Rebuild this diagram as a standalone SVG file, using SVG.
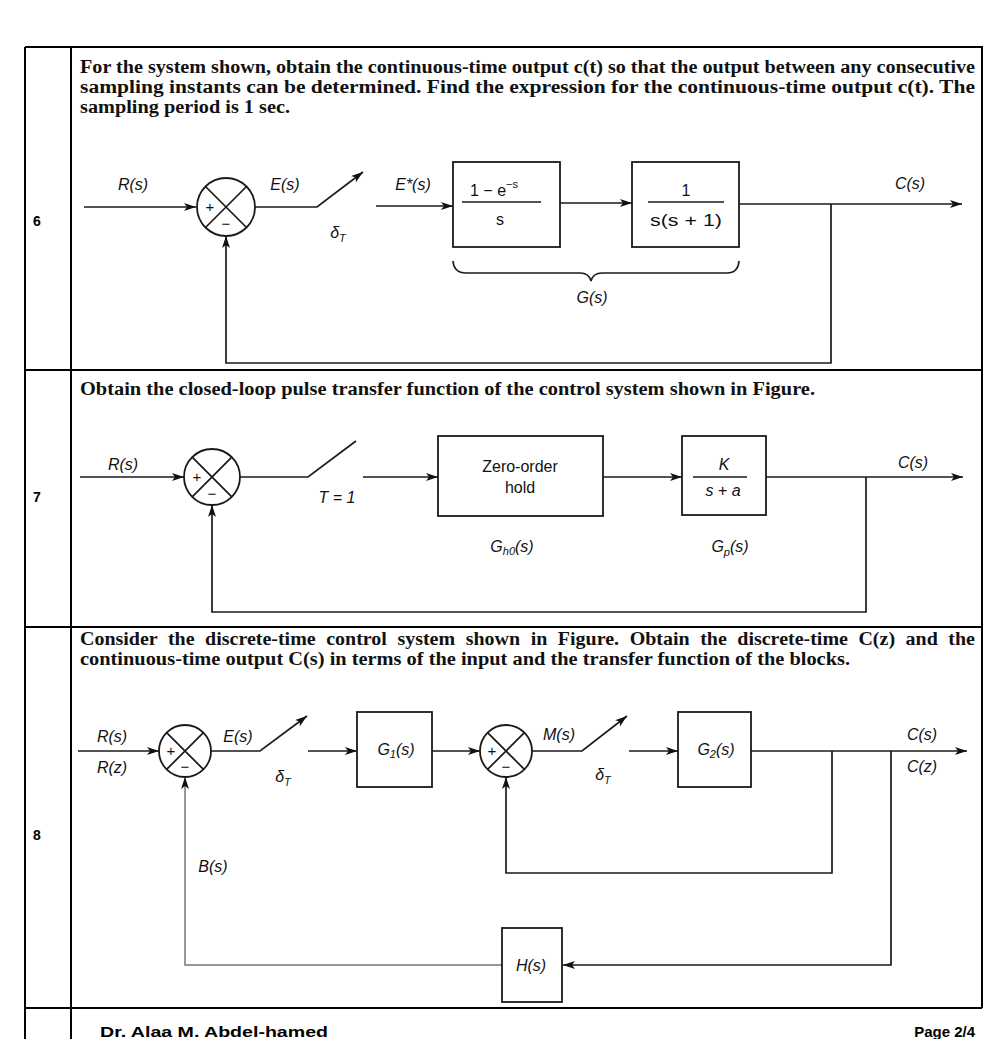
<svg xmlns="http://www.w3.org/2000/svg" width="1007" height="1039" viewBox="0 0 1007 1039">
<style>
.tb{stroke:#000;stroke-width:2;fill:none}
.q{font-family:"Liberation Serif","Times New Roman",serif;font-weight:bold;font-size:18px;fill:#111}
.num{font-family:"Liberation Sans",Arial,sans-serif;font-weight:bold;font-size:14px;fill:#000}
.ft{font-family:"Liberation Sans",Arial,sans-serif;font-weight:bold;font-size:15px;fill:#000}
.w{stroke:#1a1a1a;stroke-width:1.7;fill:none}
.wl{stroke:#777;stroke-width:1.5;fill:none}
.blk{stroke:#1a1a1a;stroke-width:1.8;fill:#fff}
.lb{font-family:"Liberation Sans",Arial,sans-serif;font-style:italic;font-size:16px;fill:#111;text-anchor:middle}
.lr{font-family:"Liberation Sans",Arial,sans-serif;font-size:16px;fill:#111;text-anchor:middle}
.sg{font-family:"Liberation Sans",Arial,sans-serif;font-size:15px;fill:#111;text-anchor:middle}
</style>
<defs>
<marker id="ah" viewBox="0 0 12 8" refX="12" refY="4" markerWidth="12" markerHeight="8" orient="auto" markerUnits="userSpaceOnUse">
<path d="M0,0 L12,4 L0,8 L3,4 z" fill="#111"/>
</marker>
</defs>
<rect width="1007" height="1039" fill="#fff"/>

<g id="table">
<path class="tb" d="M25,47 H982 V1008 M25,47 V1039 M71,47 V1039 M25,370 H982 M25,627 H982 M25,1008 H982"/>
<text class="num" x="33" y="226">6</text>
<text class="num" x="33" y="502">7</text>
<text class="num" x="33" y="840">8</text>
<text class="q" x="80" y="73" font-size="18.5" textLength="895" lengthAdjust="spacingAndGlyphs">For the system shown, obtain the continuous-time output c(t) so that the output between any consecutive</text>
<text class="q" x="80" y="93" font-size="18.5" textLength="895" lengthAdjust="spacingAndGlyphs">sampling instants can be determined. Find the expression for the continuous-time output c(t). The</text>
<text class="q" x="80" y="113" font-size="18.5" textLength="210" lengthAdjust="spacingAndGlyphs">sampling period is 1 sec.</text>
<text class="q" x="80" y="395" textLength="735" lengthAdjust="spacingAndGlyphs">Obtain the closed-loop pulse transfer function of the control system shown in Figure.</text>
<text class="q" x="80" y="645" word-spacing="5" textLength="895" lengthAdjust="spacingAndGlyphs">Consider the discrete-time control system shown in Figure. Obtain the discrete-time C(z) and the</text>
<text class="q" x="80" y="665" textLength="770" lengthAdjust="spacingAndGlyphs">continuous-time output C(s) in terms of the input and the transfer function of the blocks.</text>
<text class="ft" x="100" y="1037" textLength="228" lengthAdjust="spacingAndGlyphs">Dr.  Alaa M. Abdel-hamed</text>
<text class="ft" x="975" y="1037" text-anchor="end">Page 2/4</text>
</g>

<g id="connectors">
<!-- diagram 6 -->
<path class="w" d="M84,207 H196" marker-end="url(#ah)"/>
<path class="w" d="M255,207 H317 L363,172" marker-end="url(#ah)"/>
<path class="w" d="M376,206 H453" marker-end="url(#ah)"/>
<path class="w" d="M560,203 H632" marker-end="url(#ah)"/>
<path class="w" d="M739,204 H962" marker-end="url(#ah)"/>
<path class="w" d="M831,204 V363 H226 V236" marker-end="url(#ah)"/>
<path class="w" d="M453,261 Q454,273 466,273 H580 Q589,273 591,281 Q593,273 602,273 H727 Q738,273 739,261"/>
<!-- diagram 7 -->
<path class="w" d="M80,477 H184" marker-end="url(#ah)"/>
<path class="w" d="M240,477 H308 L356,441"/>
<path class="w" d="M363,477 H438" marker-end="url(#ah)"/>
<path class="w" d="M603,477 H682" marker-end="url(#ah)"/>
<path class="w" d="M766,477 H963" marker-end="url(#ah)"/>
<path class="w" d="M866,477 V612 H212 V505" marker-end="url(#ah)"/>
<!-- diagram 8 -->
<path class="w" d="M78,751 H159" marker-end="url(#ah)"/>
<path class="w" d="M211,751 H260 L307,716" marker-end="url(#ah)"/>
<path class="w" d="M308,751 H357" marker-end="url(#ah)"/>
<path class="w" d="M432,751 H480" marker-end="url(#ah)"/>
<path class="w" d="M532,751 H582 L627,716" marker-end="url(#ah)"/>
<path class="w" d="M629,751 H678" marker-end="url(#ah)"/>
<path class="w" d="M751,751 H967" marker-end="url(#ah)"/>
<path class="w" d="M832,751 V873 H506 V777" marker-end="url(#ah)"/>
<path class="w" d="M891,751 V965 H563" marker-end="url(#ah)"/>
<path class="wl" d="M502,965 H185 V777" marker-end="url(#ah)"/>
</g>

<g id="d6-sum">
<circle class="blk" cx="226" cy="207" r="29"/>
<path class="w" d="M205.5,186.5 L246.5,227.5 M246.5,186.5 L205.5,227.5"/>
<text class="sg" x="210" y="212">+</text>
<text class="sg" x="226" y="229">−</text>
</g>
<g id="d6-zoh">
<rect class="blk" x="453" y="162" width="107" height="85"/>
<text class="lr" x="494" y="196">1 − e<tspan font-size="11" dy="-8">−s</tspan></text>
<line class="w" x1="462" y1="202" x2="541" y2="202"/>
<text class="lr" x="500" y="225">s</text>
</g>
<g id="d6-plant">
<rect class="blk" x="632" y="162" width="107" height="85"/>
<text class="lr" x="686" y="196">1</text>
<line class="w" x1="648" y1="202" x2="724" y2="202"/>
<text class="lr" x="686" y="226" font-size="17" textLength="72" lengthAdjust="spacingAndGlyphs">s(s + 1)</text>
</g>
<g id="d6-labels">
<text class="lb" x="133" y="190">R(s)</text>
<text class="lb" x="285" y="190">E(s)</text>
<text class="lb" x="338" y="238">δ<tspan font-size="11" dy="4">T</tspan></text>
<text class="lb" x="413" y="190">E*(s)</text>
<text class="lb" x="910" y="189">C(s)</text>
<text class="lb" x="592" y="303">G(s)</text>
</g>

<g id="d7-sum">
<circle class="blk" cx="212" cy="477" r="28"/>
<path class="w" d="M192.2,457.2 L231.8,496.8 M231.8,457.2 L192.2,496.8"/>
<text class="sg" x="197" y="482">+</text>
<text class="sg" x="212" y="499">−</text>
</g>
<g id="d7-zoh">
<rect class="blk" x="438" y="436" width="165" height="80"/>
<text class="lr" x="520" y="472">Zero-order</text>
<text class="lr" x="520" y="493">hold</text>
</g>
<g id="d7-plant">
<rect class="blk" x="682" y="436" width="84" height="79"/>
<text class="lb" x="724" y="470">K</text>
<line class="w" x1="693" y1="477" x2="747" y2="477"/>
<text class="lb" x="723" y="496">s + a</text>
</g>
<g id="d7-labels">
<text class="lb" x="123" y="470">R(s)</text>
<text class="lb" x="337" y="503">T = 1</text>
<text class="lb" x="512" y="552">G<tspan font-size="11" dy="3">h0</tspan><tspan dy="-3">(s)</tspan></text>
<text class="lb" x="730" y="552">G<tspan font-size="11" dy="4">p</tspan><tspan dy="-4">(s)</tspan></text>
<text class="lb" x="913" y="468">C(s)</text>
</g>

<g id="d8-sum1">
<circle class="blk" cx="185" cy="751" r="26"/>
<path class="w" d="M166.6,732.6 L203.4,769.4 M203.4,732.6 L166.6,769.4"/>
<text class="sg" x="171" y="756">+</text>
<text class="sg" x="185" y="772">−</text>
</g>
<g id="d8-g1">
<rect class="blk" x="357" y="712" width="75" height="75"/>
<text class="lb" x="396" y="755">G<tspan font-size="11" dy="3">1</tspan><tspan dy="-3">(s)</tspan></text>
</g>
<g id="d8-sum2">
<circle class="blk" cx="506" cy="751" r="26"/>
<path class="w" d="M487.6,732.6 L524.4,769.4 M524.4,732.6 L487.6,769.4"/>
<text class="sg" x="492" y="756">+</text>
<text class="sg" x="506" y="772">−</text>
</g>
<g id="d8-g2">
<rect class="blk" x="678" y="712" width="73" height="75"/>
<text class="lb" x="716" y="755">G<tspan font-size="11" dy="3">2</tspan><tspan dy="-3">(s)</tspan></text>
</g>
<g id="d8-h">
<rect class="blk" x="502" y="928" width="60" height="74"/>
<text class="lb" x="531" y="971">H(s)</text>
</g>
<g id="d8-labels">
<text class="lb" x="112" y="742">R(s)</text>
<text class="lb" x="112" y="773">R(z)</text>
<text class="lb" x="238" y="742">E(s)</text>
<text class="lb" x="283" y="782">δ<tspan font-size="11" dy="4">T</tspan></text>
<text class="lb" x="559" y="740">M(s)</text>
<text class="lb" x="603" y="780">δ<tspan font-size="11" dy="4">T</tspan></text>
<text class="lb" x="922" y="740">C(s)</text>
<text class="lb" x="922" y="772">C(z)</text>
<text class="lb" x="213" y="872">B(s)</text>
</g>
</svg>
